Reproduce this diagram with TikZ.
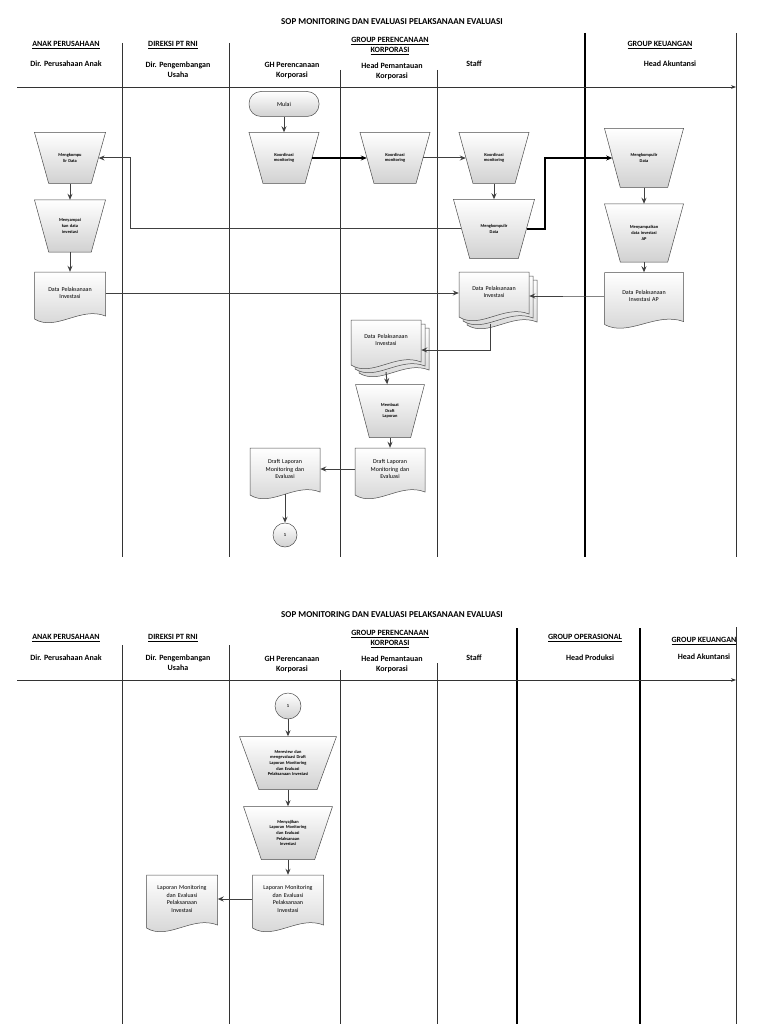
\documentclass[tikz,border=0pt]{standalone}
\usepackage{fontspec}
\setmainfont{Carlito}
\usetikzlibrary{arrows.meta,calc}
\begin{document}
\lefthyphenmin=64
\begin{tikzpicture}[x=1pt,y=-1pt,
 shp/.style={draw=black!70,line width=0.5pt,top color=white,bottom color=black!18},
 txt/.style={inner sep=0pt,align=center,font=\fontsize{4.4}{5.6}\selectfont\bfseries},
 dtxt/.style={inner sep=0pt,align=center,font=\fontsize{6}{7.5}\selectfont},
 hd/.style={font=\fontsize{8}{10}\selectfont\bfseries,align=center,inner sep=0pt},
 grp/.style={hd},
 lane/.style={line width=0.8pt,black!80},
 tlane/.style={line width=1.6pt,black},
 arr/.style={line width=1pt,black!75,-{Stealth[length=6pt,width=5pt]}},
 tarr/.style={line width=1.6pt,black,-{Stealth[length=6pt,width=5pt]}}]
\useasboundingbox (0,0) rectangle (768,1024);
\newcommand{\mytrap}[6]{%
 \path[shp] ({#2-#4/2},{#3-#5/2}) -- ({#2+#4/2},{#3-#5/2}) -- ({#2+0.3*#4},{#3+#5/2}) -- ({#2-0.3*#4},{#3+#5/2}) -- cycle;
 \node[txt,minimum width={0.8*#4},minimum height=#5,text width={0.6*#4}] (#1) at (#2,#3) {#6};}
\newcommand{\mydocpath}[4]{%
 \path[shp] ({#1-#3/2},{#2-#4/2}) -- ({#1+#3/2},{#2-#4/2}) -- ({#1+#3/2},{#2+#4/2-6}) .. controls ({#1+0.15*#3},{#2+#4/2-16}) and ({#1-0.2*#3},{#2+#4/2+10}) .. ({#1-#3/2},{#2+#4/2-3}) -- cycle;}
\newcommand{\mydoc}[6]{%
 \mydocpath{#2}{#3}{#4}{#5}
 \node[dtxt,minimum width=#4,minimum height={#5-8},text width={0.85*#4}] (#1) at (#2,{#3-4}) {#6};}
\newcommand{\mymdoc}[6]{%
 \mydocpath{#2+8}{#3+8}{#4}{#5}
 \mydocpath{#2+4}{#3+4}{#4}{#5}
 \mydocpath{#2}{#3}{#4}{#5}
 \node[dtxt,minimum width=#4,minimum height={#5-8},text width={0.85*#4}] (#1) at (#2,{#3-4}) {#6};}
% ================= PAGE 1 =================
\node[hd,font=\fontsize{9}{11}\selectfont\bfseries] (t1) at (392,22) {SOP MONITORING DAN EVALUASI PELAKSANAAN EVALUASI};
\foreach \x/\a in {122/43,229/43,340/70,437/70,736/33}{\draw[lane] (\x,\a) -- (\x,557);}
\draw[tlane] (585,33) -- (585,557);
\draw[lane,-{Stealth[length=5pt]}] (17,87) -- (736,87);
\node[grp] (g1) at (66,45) {\underline{ANAK PERUSAHAAN}};
\node[hd] (r1) at (66,64) {Dir. Perusahaan Anak};
\node[grp] (g2) at (173,45) {\underline{DIREKSI PT RNI}};
\node[hd] (r2) at (178,70) {Dir. Pengembangan\\Usaha};
\node[grp] (g3) at (390,46) {\underline{GROUP PERENCANAAN}\\\underline{KORPORASI}};
\node[hd] (r3) at (292,71) {GH Perencanaan\\Korporasi};
\node[hd] (r4) at (392,71) {Head Pemantauan\\Korporasi};
\node[hd] (r5) at (474,64) {Staff};
\node[grp] (g4) at (660,45) {\underline{GROUP KEUANGAN}};
\node[hd] (r6) at (670,64) {Head Akuntansi};
% shapes
\node[draw=black!70,line width=0.5pt,top color=white,bottom color=black!18,rounded corners=12pt,minimum width=70,minimum height=25,dtxt] (mulai) at (284,104) {Mulai};
\mytrap{kgh}{284}{158}{70}{51}{Koordinasi\\monitoring}
\mytrap{khd}{395}{158}{70}{51}{Koordinasi\\monitoring}
\mytrap{kst}{494}{158}{70}{51}{Koordinasi\\monitoring}
\mytrap{lmk}{70}{158}{71}{51}{Mengkompu\\lir Data}
\mytrap{lms}{70}{226}{71}{52}{Menyampai\\kan data\\investasi}
\mytrap{smk}{494}{229}{81}{59}{Mengkompulir\\Data}
\mytrap{kmk}{644}{158}{79}{59}{Mengkompulir\\Data}
\mytrap{kms}{644}{233}{79}{58}{Menyampaikan\\data investasi\\AP}
\mydoc{ldp}{70}{297}{71}{50}{Data Pelaksanaan\\Investasi}
\mymdoc{sdp}{494}{296}{70}{48}{Data Pelaksanaan\\Investasi}
\mydoc{kdp}{644}{300}{79}{55}{Data Pelaksanaan\\Investasi AP}
\mymdoc{mdp}{386}{344}{70}{48}{Data Pelaksanaan\\Investasi}
\mytrap{mbd}{390}{411}{69}{53}{Membuat\\Draft\\Laporan}
\mydoc{dhd}{390}{473}{70}{50}{Draft Laporan\\Monitoring dan\\Evaluasi}
\mydoc{dgh}{285}{473}{70}{50}{Draft Laporan\\Monitoring dan\\Evaluasi}
\node[circle,draw=black!70,line width=0.5pt,top color=white,bottom color=black!18,minimum size=24,inner sep=0pt,txt] (c1) at (285,535) {1};
% connectors
\coordinate (xa) at (130,0);
\coordinate (xb) at (545,0);
\coordinate (xc) at (490,0);
\coordinate (yc) at (0,350);
\draw[arr] (mulai) -- (kgh);
\draw[tarr] (kgh) -- (khd);
\draw[arr] (khd) -- (kst);
\draw[arr] (kst) -- (smk);
\draw[tarr] (smk.east) -- (smk.east -| xb) |- (kmk.west);
\draw[arr] (smk.west) -- (smk.west -| xa) |- (lmk.east);
\draw[arr] (lmk) -- (lms);
\draw[arr] (lms) -- (ldp);
\draw[arr] (ldp.east) -- (ldp.east -| sdp.west);
\draw[arr] (kmk) -- (kms);
\draw[arr] (kms) -- (kdp);
\draw[arr] (kdp.west) -- ++(-12,0) -- (kdp.west -| sdp.east);
\draw[arr] (sdp.south -| xc) ++(0,12) -- (xc |- yc) -- (yc -| mdp.east);
\draw[arr] (mdp.south) ++(0,12) -- (mbd);
\draw[arr] (mbd) -- (dhd);
\draw[arr] (dhd.west) -- (dgh.east);
\draw[arr] (dgh.south) ++(0,4) -- (c1);
% ================= PAGE 2 =================
\node[hd,font=\fontsize{9}{11}\selectfont\bfseries] (t2) at (392,615) {SOP MONITORING DAN EVALUASI PELAKSANAAN EVALUASI};
\foreach \x/\a in {122/645,229/645,340/670,437/663,736/627}{\draw[lane] (\x,\a) -- (\x,1024);}
\foreach \x in {517,640}{\draw[tlane] (\x,628) -- (\x,1024);}
\draw[lane,-{Stealth[length=5pt]}] (17,680) -- (736,680);
\node[grp] (h1) at (66,638) {\underline{ANAK PERUSAHAAN}};
\node[hd] (s1) at (66,658) {Dir. Perusahaan Anak};
\node[grp] (h2) at (173,638) {\underline{DIREKSI PT RNI}};
\node[hd] (s2) at (178,663) {Dir. Pengembangan\\Usaha};
\node[grp] (h3) at (390,639) {\underline{GROUP PERENCANAAN}\\\underline{KORPORASI}};
\node[hd] (s3) at (292,664) {GH Perencanaan\\Korporasi};
\node[hd] (s4) at (392,664) {Head Pemantauan\\Korporasi};
\node[hd] (s5) at (474,658) {Staff};
\node[grp] (h4) at (585,638) {\underline{GROUP OPERASIONAL}};
\node[hd] (s6) at (590,658) {Head Produksi};
\node[grp] (h5) at (704,641) {\underline{GROUP KEUANGAN}};
\node[hd] (s7) at (704,657) {Head Akuntansi};
\node[circle,draw=black!70,line width=0.5pt,top color=white,bottom color=black!18,minimum size=26,inner sep=0pt,txt] (c2) at (288,706) {1};
\mytrap{mrv}{288}{763}{97}{53}{Mereview dan\\mengevaluasi Draft\\Laporan Monitoring\\dan Evaluasi\\Pelaksanaan Investasi}
\mytrap{mnj}{288}{833}{89}{53}{Menyajikan\\Laporan Monitoring\\dan Evaluasi\\Pelaksanaan\\Investasi}
\mydoc{lgh}{288}{903}{71}{56}{Laporan Monitoring\\dan Evaluasi\\Pelaksanaan\\Investasi}
\mydoc{lan}{182}{903}{71}{56}{Laporan Monitoring\\dan Evaluasi\\Pelaksanaan\\Investasi}
\draw[arr] (c2) -- (mrv);
\draw[arr] (mrv) -- (mnj);
\draw[arr] (mnj) -- (lgh);
\draw[arr] (lgh.west) -- (lan.east);
\end{tikzpicture}
\end{document}
